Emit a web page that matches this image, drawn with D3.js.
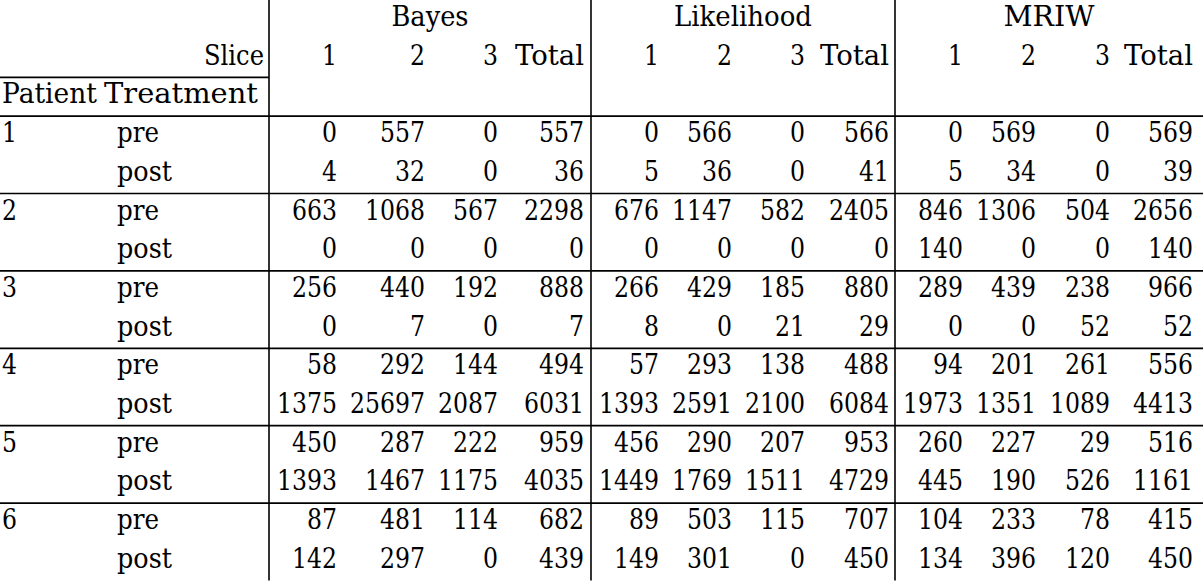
<!DOCTYPE html>
<html>
<head>
<meta charset="utf-8">
<script src="https://cdn.jsdelivr.net/npm/d3@7"></script>
<style>
  body { margin: 0; background: #fff; }
  svg text { font-family: "DejaVu Serif", "Liberation Serif", serif; font-size: 28px; fill: #000; }
</style>
</head>
<body>
<div id="chart"></div>
<script>
// table content
const methods = ["Bayes", "Likelihood", "MRIW"]
const sliceLabels = ["1", "2", "3", "Total"]
const patients = ["1", "2", "3", "4", "5", "6"]
const treatments = ["pre", "post"]

// one array per method, rows: patient 1 pre, 1 post, 2 pre, ...
const bayes = [
  [0, 557, 0, 557], [4, 32, 0, 36],
  [663, 1068, 567, 2298], [0, 0, 0, 0],
  [256, 440, 192, 888], [0, 7, 0, 7],
  [58, 292, 144, 494], [1375, 25697, 2087, 6031],
  [450, 287, 222, 959], [1393, 1467, 1175, 4035],
  [87, 481, 114, 682], [142, 297, 0, 439],
]
const likelihood = [
  [0, 566, 0, 566], [5, 36, 0, 41],
  [676, 1147, 582, 2405], [0, 0, 0, 0],
  [266, 429, 185, 880], [8, 0, 21, 29],
  [57, 293, 138, 488], [1393, 2591, 2100, 6084],
  [456, 290, 207, 953], [1449, 1769, 1511, 4729],
  [89, 503, 115, 707], [149, 301, 0, 450],
]
const mriw = [
  [0, 569, 0, 569], [5, 34, 0, 39],
  [846, 1306, 504, 2656], [140, 0, 0, 140],
  [289, 439, 238, 966], [0, 0, 52, 52],
  [94, 201, 261, 556], [1973, 1351, 1089, 4413],
  [260, 227, 29, 516], [445, 190, 526, 1161],
  [104, 233, 78, 415], [134, 396, 120, 450],
]
const values = [bayes, likelihood, mriw]

const width = 1203
const height = 585
const rowH = 38.7
const headH = 3 * rowH
const base = 26
const digitW = 15

// widths the words take in the original typeface, used to fit them
const wordWidth = {
  Bayes: 77, Likelihood: 138, MRIW: 91, Slice: 60, Patient: 95,
  Treatment: 154, Total: 69, pre: 42, post: 55,
}
const textW = t => wordWidth[t] || String(t).length * digitW

// column keys -> right edge of the right-aligned column
const colKeys = methods.flatMap(m => sliceLabels.map(s => m + "|" + s))
const x = d3.scaleOrdinal()
  .domain(colKeys)
  .range([337, 425, 498, 584, 659, 732, 805, 889, 963, 1036, 1110, 1193])

// method blocks between the vertical rules
const blockEdges = [269, 591, 895, 1203]
const block = d3.scaleOrdinal().domain(methods).range(d3.range(3))

const rows = patients.flatMap(p => treatments.map((t, i) => ({ patient: i === 0 ? p : "", treatment: t })))
const y = d3.scaleBand()
  .domain(d3.range(rows.length))
  .range([headH, headH + rows.length * rowH])
const yHead = d3.scaleBand().domain([0, 1, 2]).range([0, headH])

const svg = d3.select("#chart").append("svg")
  .attr("width", width)
  .attr("height", height)

// writes a text fitted to its width in the original, anchored start/middle/end
function cell(txt, xPos, yPos, anchor) {
  txt = String(txt)
  if (!txt) return
  const w = textW(txt)
  let x0 = xPos
  if (anchor === "end") x0 = xPos - w
  if (anchor === "middle") x0 = xPos - w / 2
  svg.append("text")
    .attr("x", x0)
    .attr("y", yPos)
    .attr("textLength", w)
    .attr("lengthAdjust", "spacingAndGlyphs")
    .text(txt)
}

// header
methods.forEach(m => {
  const b = block(m)
  cell(m, (blockEdges[b] + blockEdges[b + 1]) / 2, yHead(0) + base, "middle")
})

cell("Slice", 264, yHead(1) + base, "end")

methods.forEach(m => {
  sliceLabels.forEach(s => cell(s, x(m + "|" + s), yHead(1) + base, "end"))
})

cell("Patient", 2, yHead(2) + base, "start")
cell("Treatment", 104, yHead(2) + base, "start")

// body
rows.forEach((r, i) => {
  cell(r.patient, 2, y(i) + base, "start")
  cell(r.treatment, 117, y(i) + base, "start")
})

methods.forEach((m, mi) => {
  values[mi].forEach((r, ri) => {
    r.forEach((v, ci) => cell(v, x(m + "|" + sliceLabels[ci]), y(ri) + base, "end"))
  })
})

// rules
svg.append("line")
  .attr("x1", 0).attr("x2", blockEdges[0])
  .attr("y1", yHead(2)).attr("y2", yHead(2))
  .attr("stroke", "#000").attr("stroke-width", 1.6)

const ruleYs = d3.range(0, rows.length, 2).map(i => y(i))
svg.selectAll("line.rule")
  .data(ruleYs)
  .join("line")
  .attr("class", "rule")
  .attr("x1", 0).attr("x2", width)
  .attr("y1", d => d).attr("y2", d => d)
  .attr("stroke", "#000").attr("stroke-width", 1.7)

svg.selectAll("line.v")
  .data(blockEdges.slice(0, 3))
  .join("line")
  .attr("class", "v")
  .attr("x1", d => d).attr("x2", d => d)
  .attr("y1", 0).attr("y2", headH + rows.length * rowH)
  .attr("stroke", "#000").attr("stroke-width", 1.6)
</script>
</body>
</html>
